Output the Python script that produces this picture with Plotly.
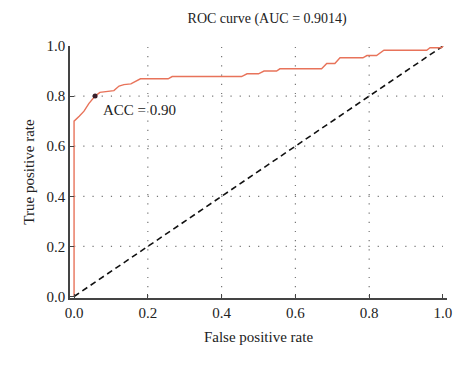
import plotly.graph_objects as go

fpr = [0, 0, 0.014, 0.027, 0.04, 0.057, 0.07, 0.09, 0.108, 0.122, 0.135, 0.154, 0.18,
       0.255, 0.266, 0.454, 0.469, 0.5, 0.515, 0.549, 0.558, 0.671, 0.685, 0.707,
       0.721, 0.783, 0.794, 0.82, 0.84, 0.956, 0.965, 0.996, 1.0]
tpr = [0, 0.70, 0.72, 0.74, 0.77, 0.80, 0.815, 0.818, 0.822, 0.84, 0.846, 0.849, 0.869,
       0.869, 0.878, 0.878, 0.889, 0.889, 0.90, 0.90, 0.909, 0.909, 0.93, 0.93,
       0.953, 0.953, 0.962, 0.962, 0.983, 0.983, 0.993, 0.993, 1.0]
chance_x = [0, 1]
chance_y = [0, 1]
acc_point_x = [0.057]
acc_point_y = [0.80]
acc_label = "ACC = 0.90"
title_text = "ROC curve (AUC = 0.9014)"
tick_vals = [0, 0.2, 0.4, 0.6, 0.8, 1.0]
tick_text = ["0.0", "0.2", "0.4", "0.6", "0.8", "1.0"]

FONT = "Liberation Serif, Times New Roman, serif"

fig = go.Figure()

# dotted grid lines (stopping at the data limits)
grid_style = dict(color="#777777", width=1.2, dash="1.2px,8px")
for v in tick_vals[1:-1]:
    fig.add_trace(go.Scatter(x=[v, v], y=[0, 1], mode="lines", line=grid_style,
                             showlegend=False, hoverinfo="skip"))
    fig.add_trace(go.Scatter(x=[0, 1], y=[v, v], mode="lines", line=grid_style,
                             showlegend=False, hoverinfo="skip"))

fig.add_trace(go.Scatter(x=chance_x, y=chance_y, mode="lines",
                         line=dict(color="#111111", width=1.6, dash="6px,4px"),
                         showlegend=False, hoverinfo="skip"))
fig.add_trace(go.Scatter(x=fpr, y=tpr, mode="lines",
                         line=dict(color="#e8735a", width=1.4),
                         showlegend=False))
fig.add_trace(go.Scatter(x=acc_point_x, y=acc_point_y, mode="markers",
                         marker=dict(color="#3a1f2a", size=5),
                         showlegend=False))

fig.add_annotation(x=0.074, y=0.746, text=acc_label, showarrow=False,
                   xanchor="left", yanchor="middle",
                   font=dict(family=FONT, size=15, color="#222222"))

axis_common = dict(showgrid=False, zeroline=False, showline=True, automargin=False,
                   linecolor="#444444", linewidth=1.5, ticks="inside", ticklen=4,
                   tickcolor="#444444", tickwidth=1.2,
                   tickvals=tick_vals, ticktext=tick_text,
                   tickfont=dict(family=FONT, size=15, color="#222222"),
                   mirror=False)

fig.update_layout(
    width=474, height=367,
    margin=dict(l=62, r=35, t=38, b=77),
    paper_bgcolor="white", plot_bgcolor="white",
    title=dict(text=title_text, xref="paper", x=0.523, xanchor="center",
               y=0.973, yanchor="middle",
               font=dict(family=FONT, size=14, color="#222222")),
    xaxis=dict(range=[-0.011, 1.011],
               title=dict(text="False positive rate", standoff=12,
                          font=dict(family=FONT, size=15, color="#222222")),
               **axis_common),
    yaxis=dict(range=[-0.006, 1.0],
               title=dict(text="True positive rate", standoff=8,
                          font=dict(family=FONT, size=15, color="#222222")),
               **axis_common),
)

fig.write_html("out.html")
